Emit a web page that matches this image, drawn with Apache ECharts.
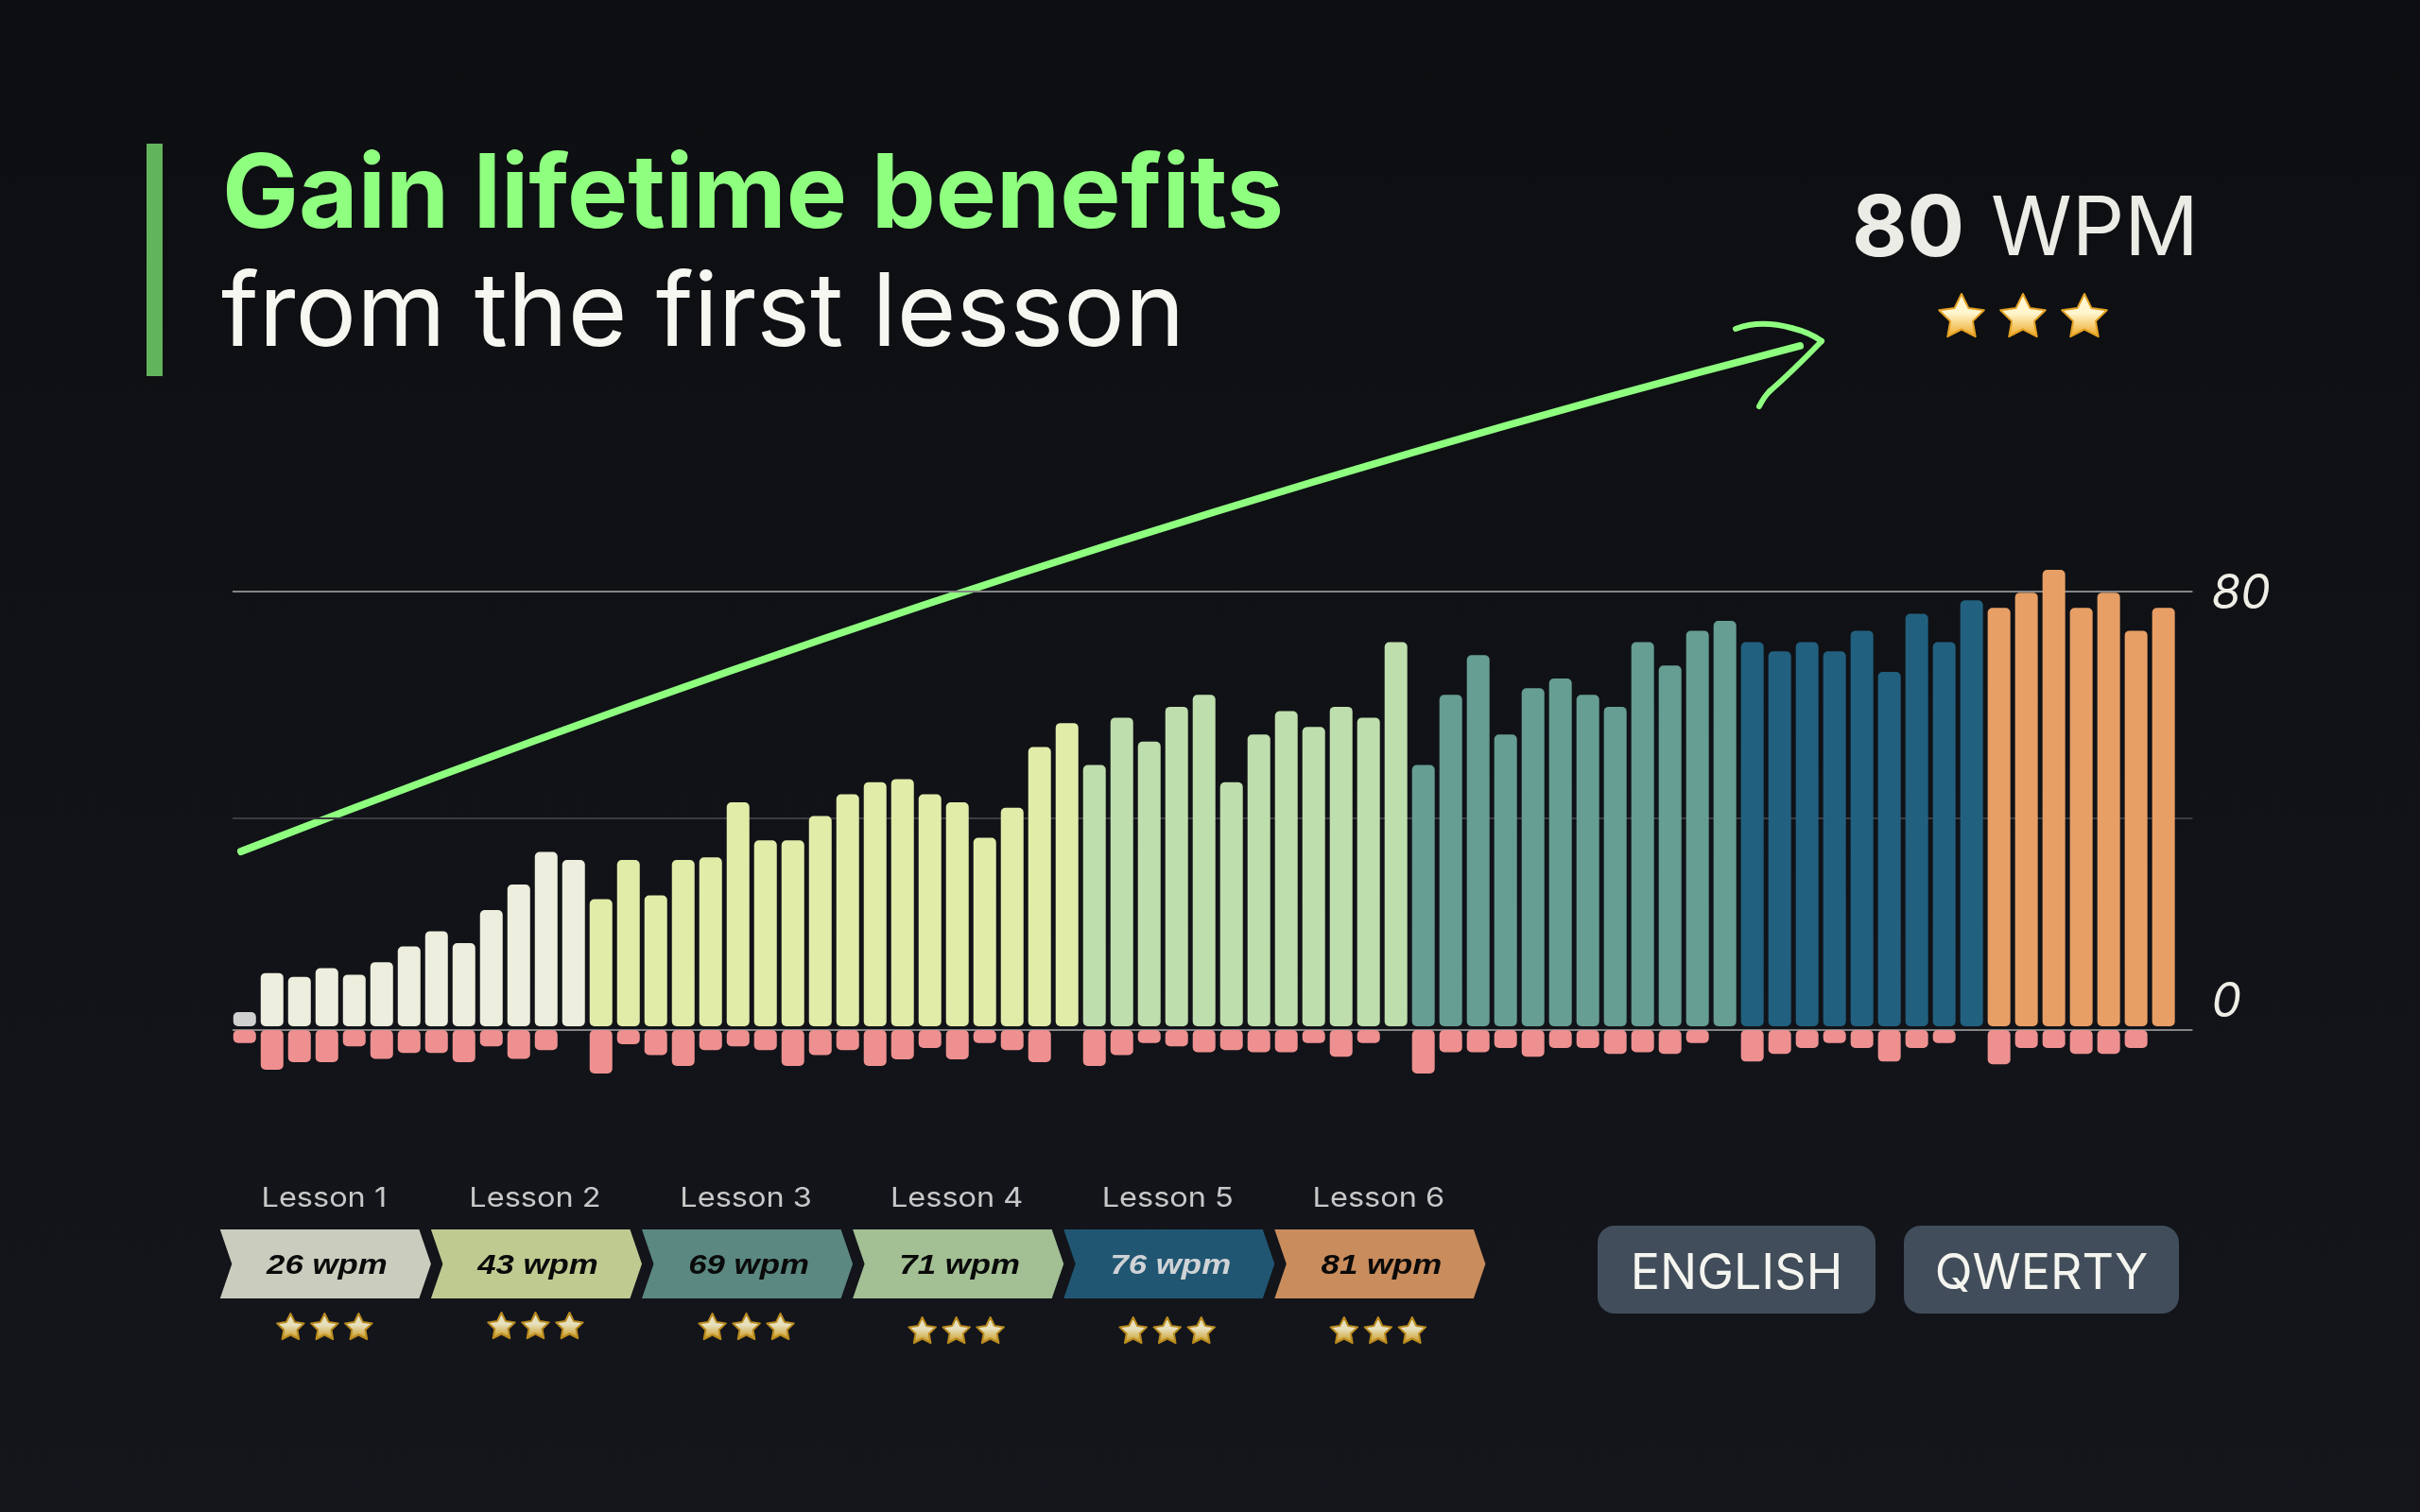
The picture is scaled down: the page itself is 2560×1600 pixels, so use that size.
<!DOCTYPE html>
<html>
<head>
<meta charset="utf-8">
<title>Gain lifetime benefits</title>
<script src="https://cdn.jsdelivr.net/npm/echarts@6/dist/echarts.min.js"></script>
<style>
html, body { margin: 0; padding: 0; background: #0f1115; }
#main { width: 2560px; height: 1600px; }
</style>
</head>
<body>
<div id="main"></div>
<script>
// typing speed per attempt (wpm)
var speeds = [
    2.6, 9.8, 9.1, 10.7, 9.5, 11.8, 14.7, 17.5, 15.3, 21.4, 26.1, 32.1, 30.6,
    23.4, 30.6, 24.1, 30.6, 31.1, 41.2, 34.2, 34.2, 38.7, 42.7, 44.9, 45.5, 42.7, 41.2, 34.7, 40.2, 51.4, 55.8,
    48.1, 56.8, 52.4, 58.8, 61, 44.9, 53.7, 58, 55.1, 58.8, 56.8, 70.7,
    48.1, 61, 68.3, 53.7, 62.2, 64, 61, 58.8, 70.7, 66.4, 72.8, 74.6,
    70.7, 69, 70.7, 69, 72.8, 65.2, 75.9, 70.7, 78.4,
    77, 79.8, 84, 77, 79.8, 72.8, 77
];
// errors per attempt, drawn downwards
var errors = [
    2.4, 7.3, 5.9, 5.9, 3, 5.3, 4.2, 4.2, 5.9, 3, 5.3, 3.7, 0,
    8, 2.6, 4.6, 6.6, 3.7, 3, 3.7, 6.6, 4.6, 3.7, 6.6, 5.4, 3.3, 5.4, 2.4, 3.7, 5.9, 0,
    6.6, 4.6, 2.4, 3, 4.1, 3.7, 4.1, 4.1, 2.4, 4.9, 2.4, 0,
    8, 4.1, 4.1, 3.3, 4.9, 3.3, 3.3, 4.4, 4.1, 4.4, 2.4, 0,
    5.8, 4.4, 3.3, 2.4, 3.3, 5.8, 3.3, 2.4, 0,
    6.3, 3.3, 3.3, 4.4, 4.4, 3.3, 0
];
var groupSizes = [1, 12, 18, 12, 12, 9, 7];
var groupColors = ['#d0d0d0', '#edeedd', '#e1eca9', '#bfdead', '#669e93', '#22607f', '#e89f65'];

var lessonNames = ['Lesson 1', 'Lesson 2', 'Lesson 3', 'Lesson 4', 'Lesson 5', 'Lesson 6'];
var lessonSpeeds = ['26 wpm', '43 wpm', '69 wpm', '71 wpm', '76 wpm', '81 wpm'];
var lessonColors = ['#caccbe', '#bfca91', '#5b8880', '#a3bf94', '#215672', '#c98c5c'];
var lessonTextColors = ['#0a0a0a', '#0a0a0a', '#0a0a0a', '#0a0a0a', '#cfd3d6', '#0a0a0a'];
var buttons = ['ENGLISH', 'QWERTY'];

var green = '#8fff80';
var textFont = 'Inter';

function barColor(index) {
    var seen = 0;
    for (var g = 0; g < groupSizes.length; g++) {
        seen += groupSizes[g];
        if (index < seen) return groupColors[g];
    }
}

function barData(values, useGroups) {
    return values.map(function (v, i) {
        if (!v) return [i, null];
        return { value: [i, v], itemStyle: { color: useGroups ? barColor(i) : '#ee9090' } };
    });
}

function star(cx, cy, r, top, bottom, stroke) {
    var pts = [];
    for (var i = 0; i < 10; i++) {
        var a = -Math.PI / 2 + i * Math.PI / 5;
        var rr = i % 2 ? r * 0.5 : r;
        pts.push([cx + rr * Math.cos(a), cy + rr * Math.sin(a)]);
    }
    return {
        type: 'polygon',
        shape: { points: pts },
        style: {
            fill: new echarts.graphic.LinearGradient(0, 0, 0, 1, [
                { offset: 0, color: top },
                { offset: 0.45, color: top },
                { offset: 1, color: bottom }
            ]),
            stroke: stroke,
            lineWidth: 2,
            lineJoin: 'round'
        }
    };
}

// stretch widens the glyphs a bit, the reference text is tracked out
function label(x, y, text, font, color, align, stretch) {
    return {
        type: 'text',
        x: x,
        y: y,
        scaleX: stretch || 1,
        style: { text: text, font: font, fill: color, align: align || 'center', verticalAlign: 'middle' }
    };
}

function arrowStroke(x1, y1, cx, cy, x2, y2) {
    return {
        type: 'bezierCurve',
        shape: { x1: x1, y1: y1, cpx1: cx, cpy1: cy, x2: x2, y2: y2 },
        style: { stroke: green, lineWidth: 6, lineCap: 'round', fill: null }
    };
}

function buildGraphic() {
    var items = [];
    // accent bar next to the headline
    items.push({ type: 'rect', shape: { x: 155, y: 152, width: 17, height: 246 }, style: { fill: '#62b45c' } });
    items.push(label(1959, 244, '80', 'bold 90px ' + textFont, '#ebece6', 'left'));
    items.push(label(2106, 244, 'WPM', '87px ' + textFont, '#ebece6', 'left'));
    [2075, 2140, 2205].forEach(function (x) {
        items.push(star(x, 336, 25, '#fff6cf', '#eda51c', '#e3a123'));
    });
    // hand drawn arrow
    items.push({
        type: 'bezierCurve',
        shape: { x1: 255, y1: 901, x2: 1904, y2: 366, cpx1: 1079, cpy1: 580 },
        style: { stroke: green, lineWidth: 8, lineCap: 'round', fill: null }
    });
    items.push(arrowStroke(1836, 348, 1862, 338, 1895, 347));
    items.push(arrowStroke(1895, 347, 1915, 352, 1927, 361));
    items.push(arrowStroke(1927, 361, 1895, 394, 1872, 414));
    items.push(arrowStroke(1872, 414, 1866, 420, 1861, 430));
    // lesson strip
    var pitch = 223.1, notch = 12.5, top = 1301, bottom = 1374;
    var starTops = [1405, 1404, 1405, 1409, 1409, 1409];
    lessonNames.forEach(function (name, i) {
        var x0 = 232.8 + i * pitch, x1 = x0 + pitch;
        items.push({
            type: 'polygon',
            shape: { points: [[x0, top], [x1 - notch, top], [x1, (top + bottom) / 2], [x1 - notch, bottom], [x0, bottom], [x0 + notch, (top + bottom) / 2]] },
            style: { fill: lessonColors[i] }
        });
        var cx = x0 + pitch / 2 - 1.5;
        items.push(label(cx, 1268, name, '29px ' + textFont, '#c8c8c8', 'center', 1.12));
        items.push(label(cx + 3, 1340, lessonSpeeds[i], 'italic bold 30px "Liberation Sans"', lessonTextColors[i], 'center', 1.16));
        [-36, 0, 36].forEach(function (d) {
            items.push(star(cx + d + (i > 2 ? -0.5 : 0.5), starTops[i], 15, '#e6e0bd', '#c9930f', '#b98a1e'));
        });
    });
    // keyboard badges
    [[1690, 294], [2014, 291]].forEach(function (b, i) {
        items.push({
            type: 'rect',
            shape: { x: b[0], y: 1297, width: b[1], height: 93, r: 18 },
            style: { fill: '#414d5a' }
        });
        items.push(label(b[0] + b[1] / 2, 1348, buttons[i], '52px ' + textFont, '#f5f5f0'));
    });
    return items;
}

var chart = echarts.init(document.getElementById('main'));

var slotStart = -0.441, slotEnd = 71.06; // gridlines run a little past the last bar

chart.setOption({
    animation: false,
    backgroundColor: new echarts.graphic.LinearGradient(0, 0, 0, 1, [
        { offset: 0, color: '#0c0e11' },
        { offset: 1, color: '#14161c' }
    ]),
    title: [
        {
            text: 'Gain lifetime benefits',
            left: 230,
            top: 150,
            textStyle: { color: green, fontFamily: textFont, fontWeight: 'bold', fontSize: 108 }
        },
        {
            text: 'from the first lesson',
            left: 229,
            top: 275,
            textStyle: { color: '#f6f7f1', fontFamily: textFont, fontWeight: 'normal', fontSize: 107.7 }
        }
    ],
    grid: [
        { left: 246, width: 2073.4, top: 568.5, height: 517.5 },
        { left: 246, width: 2073.4, top: 1090, height: 115 }
    ],
    xAxis: [
        { type: 'value', gridIndex: 0, min: slotStart, max: slotEnd, show: false },
        { type: 'value', gridIndex: 1, min: slotStart, max: slotEnd, show: false }
    ],
    yAxis: [
        { type: 'value', gridIndex: 0, min: 0, max: 90, show: false },
        { type: 'value', gridIndex: 1, min: 0, max: 20, inverse: true, show: false }
    ],
    series: [
        {
            name: 'Speed',
            type: 'bar',
            xAxisIndex: 0,
            yAxisIndex: 0,
            barWidth: 24,
            z: 3,
            itemStyle: { borderRadius: 5 },
            data: barData(speeds, true),
            markLine: {
                silent: true,
                symbol: 'none',
                animation: false,
                z: 1,
                data: [
                    {
                        yAxis: 80,
                        lineStyle: { color: '#858585', width: 2, type: 'solid' },
                        label: {
                            show: true,
                            position: 'end',
                            distance: 20,
                            offset: [0, 3],
                            formatter: '80',
                            color: '#eeeee6',
                            fontFamily: textFont,
                            fontStyle: 'italic',
                            fontSize: 50
                        }
                    },
                    {
                        yAxis: 38.3,
                        lineStyle: { color: '#3b3c40', width: 2, type: 'solid' },
                        label: { show: false }
                    }
                ]
            }
        },
        {
            name: 'Errors',
            type: 'bar',
            xAxisIndex: 1,
            yAxisIndex: 1,
            barWidth: 24,
            z: 3,
            itemStyle: { borderRadius: 5 },
            data: barData(errors, false),
            markLine: {
                silent: true,
                symbol: 'none',
                animation: false,
                z: 1,
                data: [
                    {
                        yAxis: 0,
                        lineStyle: { color: '#858585', width: 2, type: 'solid' },
                        label: {
                            show: true,
                            position: 'end',
                            distance: 20,
                            offset: [0, -29],
                            formatter: '0',
                            color: '#eeeee6',
                            fontFamily: textFont,
                            fontStyle: 'italic',
                            fontSize: 50
                        }
                    }
                ]
            }
        }
    ],
    graphic: buildGraphic()
});
</script>
</body>
</html>
